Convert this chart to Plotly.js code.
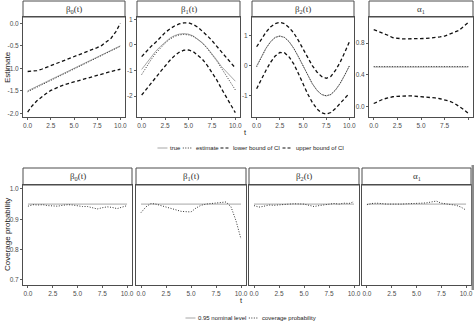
<!DOCTYPE html>
<html>
<head>
<meta charset="utf-8">
<script src="https://cdn.plot.ly/plotly-3.0.1.min.js"></script>
<style>html,body{margin:0;padding:0;background:#fff}#chart{width:474px;height:322px}</style>
</head>
<body>
<div id="chart"></div>
<script>
// ---------- data ----------
const tGrid = [0,0.5,1,1.5,2,2.5,3,3.5,4,4.5,5,5.5,6,6.5,7,7.5,8,8.5,9,9.5,10];

const panelLabels = ['β<sub>0</sub>(t)','β<sub>1</sub>(t)','β<sub>2</sub>(t)','α<sub>1</sub>'];

// tick labels
const xTickVals = [0,2.5,5,7.5,10];
const xTickText = ['0.0','2.5','5.0','7.5','10.0'];
const b0TickVals = [-2,-1.5,-1,-0.5,0];
const b0TickText = ['-2.0','-1.5','-1.0','-0.5','0.0'];
const b1TickVals = [-2,-1,0,1];
const b1TickText = ['-2','-1','0','1'];
const b2TickVals = [-1,0,1];
const b2TickText = ['-1','0','1'];
const a1TickVals = [0,0.4,0.8];
const a1TickText = ['0.0','0.4','0.8'];
const covTickVals = [0.7,0.8,0.9,1.0];
const covTickText = ['0.7','0.8','0.9','1.0'];

// beta0(t)
const b0True  = [-1.50,-1.45,-1.40,-1.35,-1.30,-1.25,-1.20,-1.15,-1.10,-1.05,-1.00,-0.95,-0.90,-0.85,-0.80,-0.75,-0.70,-0.65,-0.60,-0.55,-0.50];
const b0Est   = [-1.52,-1.47,-1.42,-1.37,-1.32,-1.26,-1.21,-1.16,-1.11,-1.06,-1.01,-0.96,-0.91,-0.86,-0.81,-0.76,-0.71,-0.66,-0.61,-0.56,-0.51];
const b0Lower = [-1.97,-1.83,-1.72,-1.63,-1.56,-1.49,-1.44,-1.40,-1.36,-1.33,-1.30,-1.27,-1.24,-1.21,-1.18,-1.15,-1.12,-1.09,-1.06,-1.04,-1.02];
const b0Upper = [-1.07,-1.06,-1.05,-1.02,-0.98,-0.94,-0.90,-0.87,-0.83,-0.79,-0.75,-0.71,-0.67,-0.63,-0.59,-0.54,-0.49,-0.42,-0.33,-0.19,0.00];

// beta1(t)
const b1True  = [-0.96,-0.71,-0.47,-0.25,-0.06,0.12,0.26,0.36,0.42,0.44,0.42,0.35,0.23,0.08,-0.12,-0.34,-0.58,-0.84,-1.04,-1.24,-1.42];
const b1Est   = [-1.16,-0.86,-0.58,-0.33,-0.12,0.07,0.22,0.33,0.39,0.41,0.39,0.33,0.21,0.06,-0.14,-0.37,-0.62,-0.90,-1.20,-1.50,-1.76];
const b1Lower = [-1.96,-1.72,-1.50,-1.28,-1.05,-0.82,-0.61,-0.43,-0.29,-0.21,-0.20,-0.26,-0.40,-0.57,-0.80,-1.06,-1.36,-1.70,-2.01,-2.33,-2.65];
const b1Upper = [-0.46,-0.25,-0.06,0.10,0.30,0.48,0.62,0.74,0.82,0.86,0.86,0.80,0.69,0.53,0.36,0.17,-0.06,-0.27,-0.48,-0.69,-0.90];

// beta2(t)
const b2True  = [0,0.309,0.588,0.809,0.951,1,0.951,0.809,0.588,0.309,0,-0.309,-0.588,-0.809,-0.951,-1,-0.951,-0.809,-0.588,-0.309,0];
const b2Est   = [-0.03,0.29,0.58,0.80,0.95,0.99,0.95,0.81,0.59,0.31,0.0,-0.31,-0.59,-0.81,-0.95,-0.99,-0.95,-0.80,-0.58,-0.30,0.0];
const b2Lower = [-0.76,-0.44,-0.15,0.12,0.33,0.45,0.44,0.30,0.07,-0.25,-0.60,-0.93,-1.21,-1.43,-1.56,-1.60,-1.55,-1.42,-1.25,-1.08,-0.91];
const b2Upper = [0.64,0.88,1.12,1.30,1.41,1.45,1.41,1.28,1.10,0.85,0.56,0.27,0.01,-0.20,-0.35,-0.41,-0.35,-0.15,0.12,0.45,0.80];

// alpha1
const a1True  = [0.5,0.5,0.5,0.5,0.5,0.5,0.5,0.5,0.5,0.5,0.5,0.5,0.5,0.5,0.5,0.5,0.5,0.5,0.5,0.5,0.5];
const a1Est   = [0.505,0.504,0.505,0.505,0.504,0.505,0.505,0.504,0.505,0.505,0.504,0.505,0.505,0.504,0.505,0.505,0.504,0.505,0.505,0.504,0.505];
const a1Lower = [0.04,0.07,0.095,0.11,0.125,0.13,0.135,0.135,0.135,0.13,0.13,0.125,0.12,0.11,0.10,0.085,0.07,0.045,0.01,-0.035,-0.085];
const a1Upper = [0.97,0.95,0.92,0.90,0.87,0.86,0.855,0.855,0.855,0.855,0.86,0.86,0.865,0.87,0.88,0.89,0.91,0.93,0.96,1.01,1.06];

// coverage probabilities
const nominal = [0.95,0.95,0.95,0.95,0.95,0.95,0.95,0.95,0.95,0.95,0.95,0.95,0.95,0.95,0.95,0.95,0.95,0.95,0.95,0.95,0.95];
const covB0 = [0.943,0.948,0.947,0.948,0.945,0.944,0.943,0.946,0.948,0.947,0.944,0.942,0.942,0.937,0.934,0.938,0.941,0.939,0.935,0.940,0.945];
const covB1 = [0.922,0.941,0.952,0.950,0.945,0.941,0.937,0.931,0.926,0.924,0.924,0.937,0.946,0.950,0.952,0.953,0.955,0.957,0.941,0.895,0.835];
const covB2 = [0.945,0.940,0.943,0.947,0.946,0.948,0.949,0.950,0.951,0.951,0.950,0.946,0.942,0.945,0.948,0.951,0.952,0.950,0.953,0.952,0.958];
const covA1 = [0.948,0.952,0.953,0.951,0.950,0.950,0.949,0.950,0.951,0.951,0.952,0.953,0.954,0.956,0.960,0.953,0.951,0.948,0.946,0.940,0.930];

const topLegendLabels = ['true','estimate','lower bound of CI','upper bound of CI'];
const botLegendLabels = ['0.95 nominal level','coverage probability'];

// ---------- layout helpers ----------
const W = 474, H = 322;
const px = v => v / W;
const py = v => 1 - v / H;

const topX = [[23,125],[137,240],[252,354],[369,473]];
const botX = [[23,132],[136,246],[249,359],[362,471]];
const topY = [17,117], botY = [185,285];
const topStrip = [1,17], botStrip = [168,185];

const topSets = [
  {tr:b0True, es:b0Est, lo:b0Lower, up:b0Upper, range:[-2.08,0.14], tv:b0TickVals, tt:b0TickText},
  {tr:b1True, es:b1Est, lo:b1Lower, up:b1Upper, range:[-2.82,1.09], tv:b1TickVals, tt:b1TickText},
  {tr:b2True, es:b2Est, lo:b2Lower, up:b2Upper, range:[-1.70,1.63], tv:b2TickVals, tt:b2TickText},
  {tr:a1True, es:a1Est, lo:a1Lower, up:a1Upper, range:[-0.13,1.13], tv:a1TickVals, tt:a1TickText}
];
const covSets = [covB0, covB1, covB2, covA1];

const FONT = 'Liberation Sans, Arial, sans-serif';
const tickFont = {family:FONT, size:6.5, color:'#4d4d4d'};
const borderCol = '#4d4d4d';
const trueCol = '#a6a6a6', estCol = '#333333', ciCol = '#111111';
const ciDash = '3.5px,2.5px';
const estDash = '1px,1.6px';

const traces = [];
const layout = {
  width: W, height: H,
  margin: {l:0, r:0, t:0, b:0},
  paper_bgcolor: '#fff', plot_bgcolor: '#fff',
  showlegend: false,
  shapes: [], annotations: []
};

function axisCommon(dom) {
  return {
    domain: dom, showline: true, mirror: true, linecolor: borderCol, linewidth: 1,
    showgrid: false, zeroline: false, ticks: 'outside', ticklen: 2, tickwidth: 0.8,
    tickcolor: '#333', tickfont: tickFont, fixedrange: true, tickmode: 'array'
  };
}

let k = 0;
function addPanel(xd, yd, yr, tv, tt, showY, series) {
  k++;
  const xa = 'xaxis' + (k === 1 ? '' : k), ya = 'yaxis' + (k === 1 ? '' : k);
  const xr = 'x' + (k === 1 ? '' : k), yr2 = 'y' + (k === 1 ? '' : k);
  layout[xa] = Object.assign(axisCommon([px(xd[0]), px(xd[1])]), {
    range: [-0.5, 10.5], tickvals: xTickVals, ticktext: xTickText, anchor: yr2
  });
  layout[ya] = Object.assign(axisCommon([py(yd[1]), py(yd[0])]), {
    range: yr, tickvals: tv, ticktext: tt, anchor: xr, showticklabels: showY,
    ticks: showY ? 'outside' : ''
  });
  series.forEach(s => traces.push(Object.assign({x: tGrid, xaxis: xr, yaxis: yr2, mode: 'lines', hoverinfo: 'skip'}, s)));
}

function addStrip(xd, sy, label) {
  layout.shapes.push({type:'rect', xref:'paper', yref:'paper', x0:px(xd[0]), x1:px(xd[1]),
    y0:py(sy[1]), y1:py(sy[0]), line:{color:borderCol, width:1}, fillcolor:'#ffffff', layer:'below'});
  layout.annotations.push({xref:'paper', yref:'paper', x:px((xd[0]+xd[1])/2), y:py((sy[0]+sy[1])/2),
    text: label, showarrow:false, font:{family:'Liberation Serif, serif', size:9, color:'#333333'},
    xanchor:'center', yanchor:'middle'});
}

topSets.forEach((d, i) => {
  addPanel(topX[i], topY, d.range, d.tv, d.tt, true, [
    {y: d.tr, name: 'true', line: {color: trueCol, width: 1}},
    {y: d.es, name: 'estimate', line: {color: estCol, width: 1, dash: estDash}},
    {y: d.lo, name: 'lower bound of CI', line: {color: ciCol, width: 1.3, dash: ciDash}},
    {y: d.up, name: 'upper bound of CI', line: {color: ciCol, width: 1.3, dash: ciDash}}
  ]);
  addStrip(topX[i], topStrip, panelLabels[i]);
});

covSets.forEach((c, i) => {
  addPanel(botX[i], botY, [0.683, 1.013], covTickVals, covTickText, i === 0, [
    {y: nominal, name: '0.95 nominal level', line: {color: trueCol, width: 1}},
    {y: c, name: 'coverage probability', line: {color: estCol, width: 1, dash: estDash}}
  ]);
  addStrip(botX[i], botStrip, panelLabels[i]);
});

// right-edge grey band (as in source image)
layout.shapes.push({type:'rect', xref:'paper', yref:'paper', x0:px(471.5), x1:px(474), y0:py(290), y1:py(165),
  line:{width:0}, fillcolor:'#8c8c8c'});

// axis titles
const titleFont = {family:FONT, size:8, color:'#1a1a1a'};
function note(x, y, text, extra) {
  layout.annotations.push(Object.assign({xref:'paper', yref:'paper', x:px(x), y:py(y), text:text,
    showarrow:false, xanchor:'center', yanchor:'middle', font:titleFont, borderpad:0}, extra || {}));
}
note(7, 67, 'Estimate', {textangle:-90});
note(7, 235, 'Coverage probability', {textangle:-90});
note(245, 132.5, 't', {font:{family:FONT, size:7.5, color:'#1a1a1a'}});
note(241, 300.5, 't', {font:{family:FONT, size:7.5, color:'#1a1a1a'}});

// manual legends (key samples + labels), laid out from measured text widths
const legSize = 6;
const legFont = {family:FONT, size:legSize, color:'#1a1a1a'};
const ctx = document.createElement('canvas').getContext('2d');
ctx.font = legSize + 'px "Liberation Sans", Arial, sans-serif';
function drawLegend(labels, styles, centerX, yPix) {
  const keyW = 10, gapKey = 2, gapItem = 3;
  const widths = labels.map(l => ctx.measureText(l).width);
  const total = widths.reduce((a, w) => a + keyW + gapKey + w, 0) + gapItem * (labels.length - 1);
  let x = centerX - total / 2;
  labels.forEach((l, i) => {
    layout.shapes.push({type:'line', xref:'paper', yref:'paper', x0:px(x), x1:px(x+keyW), y0:py(yPix), y1:py(yPix), line:styles[i]});
    layout.annotations.push({xref:'paper', yref:'paper', x:px(x+keyW+gapKey), y:py(yPix), text:l, showarrow:false,
      xanchor:'left', yanchor:'middle', font:legFont, borderpad:0});
    x += keyW + gapKey + widths[i] + gapItem;
  });
}
drawLegend(topLegendLabels, [
  {color:trueCol, width:1}, {color:estCol, width:1, dash:'1px,1.5px'},
  {color:ciCol, width:1.2, dash:'3px,2px'}, {color:ciCol, width:1.2, dash:'3px,2px'}
], 250, 148);
drawLegend(botLegendLabels, [{color:trueCol, width:1}, {color:estCol, width:1, dash:'1px,1.5px'}], 250, 318);

Plotly.newPlot('chart', traces, layout, {staticPlot:true, displayModeBar:false});
</script>
</body>
</html>
